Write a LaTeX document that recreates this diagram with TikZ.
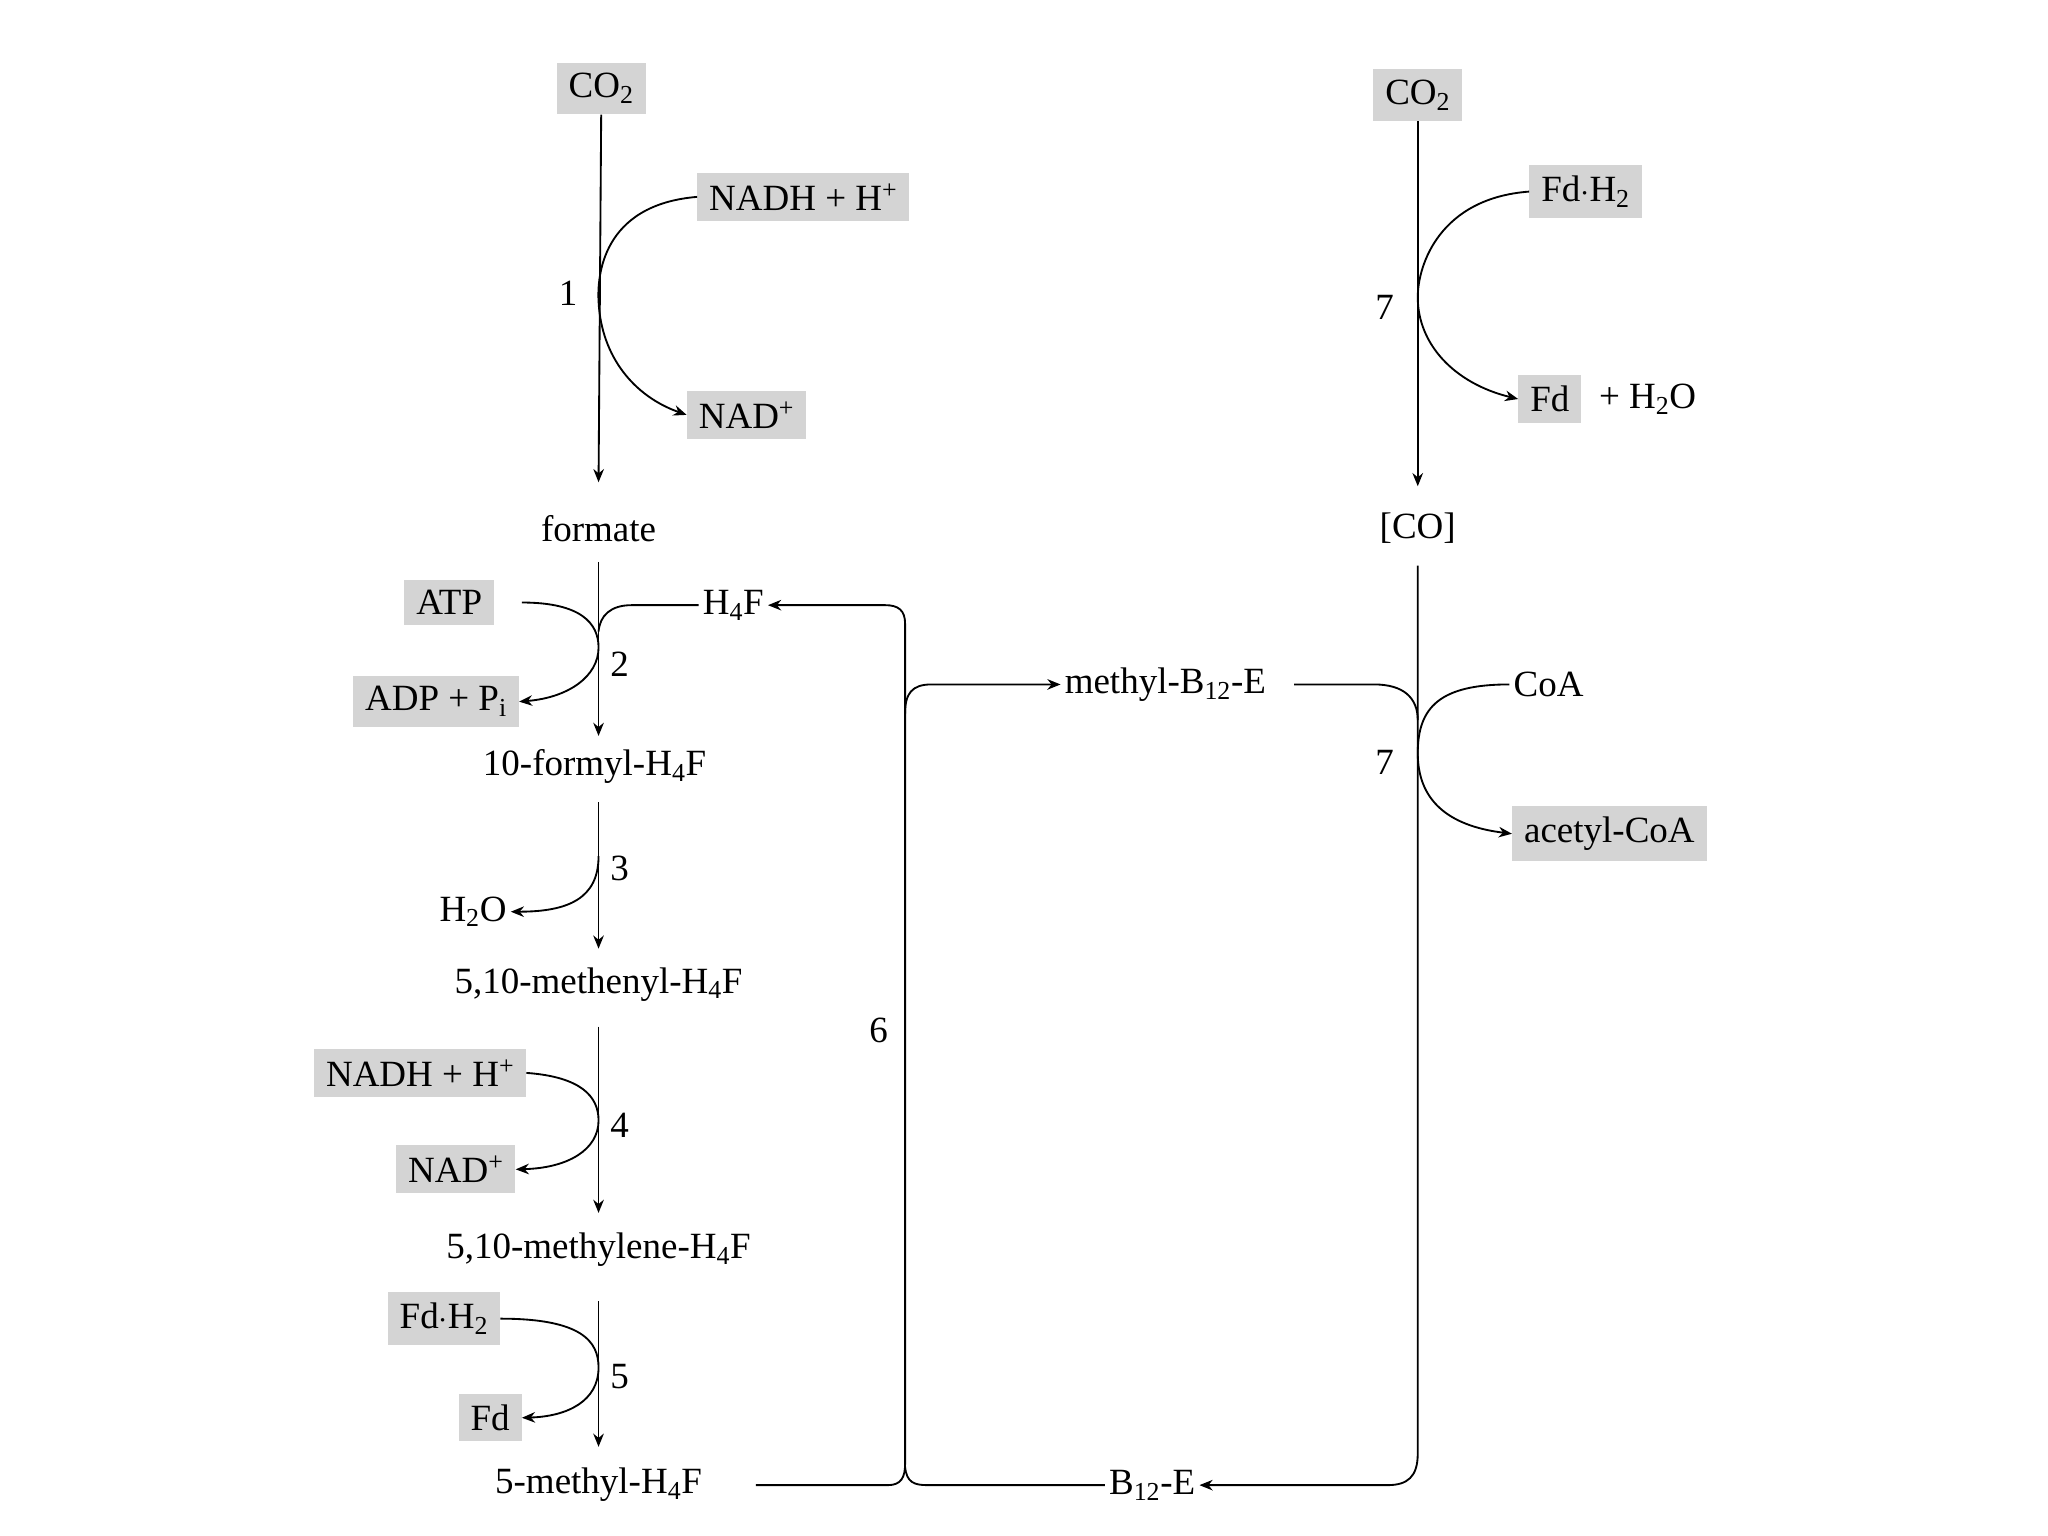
\documentclass[tikz,border=0pt]{standalone}
\usepackage{fontspec}
\setmainfont{Liberation Serif}
\usetikzlibrary{arrows.meta}
\newcommand{\sbs}[1]{\textsubscript{#1}}
\newcommand{\sps}[1]{\textsuperscript{#1}}
\begin{document}
\begin{tikzpicture}[x=1pt,y=-1pt,
  every node/.style={font=\fontsize{28}{32}\selectfont,inner sep=3pt},
  gbox/.style={fill=black!17,inner xsep=9pt,inner ysep=8pt},
  ln/.style={line width=1.4pt},
  ar/.style={ln,-{Stealth[length=10pt,width=8pt]}}]
\useasboundingbox (0,0) rectangle (1550,1162);
% left column
\node[gbox] (co2a) at (455,67) {CO\sbs{2}};
\node[gbox] (nadh1) at (608,149) {NADH + H\sps{+}};
\node[gbox] (nad1) at (565,314) {NAD\sps{+}};
\node (n1) at (430,222) {1};
\node (formate) at (453,400) {formate};
\draw[ar] (co2a.south) -- (453,365);
\draw[ar] (nadh1.west) .. controls (455,155) and (452,210) .. (453,228) .. controls (455,270) and (480,300) .. (nad1.west);
\node[gbox] (atp) at (340,456) {ATP};
\node (h4f) at (555,458) {H\sbs{4}F};
\node[gbox] (adp) at (330,531) {ADP + P\sbs{i}};
\node (n2) at (469,503) {2};
\node (formyl) at (450,580) {10-formyl-H\sbs{4}F};
\draw[ar] (formate.south) ++(0,12) -- (453,557);
\draw[ar] (395,456) .. controls (440,456) and (453,472) .. (453,490) .. controls (453,512) and (430,528) .. (adp.east);
\draw[ln] (h4f.west) -- (478,458) .. controls (462,458) and (454,466) .. (453,478);
\node (n3) at (469,657) {3};
\node (h2o) at (358,690) {H\sbs{2}O};
\node (methenyl) at (453,745) {5,10-methenyl-H\sbs{4}F};
\draw[ar] (453,607) -- (453,718);
\draw[ar] (453,648) .. controls (453,680) and (430,690) .. (h2o.east);
\node[gbox] (nadh2) at (318,812) {NADH + H\sps{+}};
\node[gbox] (nad2) at (345,885) {NAD\sps{+}};
\node (n4) at (469,852) {4};
\node (methylene) at (453,946) {5,10-methylene-H\sbs{4}F};
\draw[ar] (453,777) -- (453,918);
\draw[ar] (nadh2.east) .. controls (440,815) and (453,830) .. (453,848) .. controls (453,870) and (430,884) .. (nad2.east);
\node[gbox] (fdh2a) at (336,998) {Fd$\cdot$H\sbs{2}};
\node[gbox] (fda) at (371,1073) {Fd};
\node (n5) at (469,1042) {5};
\node (mthf) at (453,1124) {5-methyl-H\sbs{4}F};
\draw[ar] (453,985) -- (453,1095);
\draw[ar] (fdh2a.east) .. controls (440,998) and (453,1015) .. (453,1035) .. controls (453,1060) and (430,1072) .. (fda.east);
% middle loop
\node (n6) at (665,780) {6};
\node (mb12) at (882,518) {methyl-B\sbs{12}-E};
\node (b12) at (872,1124) {B\sbs{12}-E};
\draw[ar] (572,1124) -- (672,1124) .. controls (682,1124) and (685,1118) .. (685,1108) -- (685,472) .. controls (685,462) and (680,458) .. (670,458) -- (h4f.east);
\draw[ar] (685,540) .. controls (685,525) and (690,518) .. (705,518) -- (mb12.west);
\draw[ln] (685,1110) .. controls (686,1122) and (692,1124) .. (702,1124) -- (b12.west);
% right column
\node[gbox] (co2b) at (1073,72) {CO\sbs{2}};
\node[gbox] (fdh2b) at (1200,145) {Fd$\cdot$H\sbs{2}};
\node[gbox] (fdb) at (1173,302) {Fd};
\node[anchor=west] (h2ob) at (1207,302) {+ H\sbs{2}O};
\node (n7a) at (1048,233) {7};
\node (co) at (1073,400) {[CO]};
\draw[ar] (co2b.south) -- (1073,368);
\draw[ar] (fdh2b.west) .. controls (1090,150) and (1073,200) .. (1073,225) .. controls (1073,260) and (1100,290) .. (fdb.west);
\node (coa) at (1172,518) {CoA};
\node[gbox] (acoa) at (1218,631) {acetyl-CoA};
\node (n7b) at (1048,577) {7};
\draw[ar] (1073,428) -- (1073,1100) .. controls (1073,1118) and (1065,1124) .. (1050,1124) -- (b12.east);
\draw[ln] (mb12.east) ++(18,0) -- (1040,518) .. controls (1062,518) and (1073,528) .. (1073,545);
\draw[ar] (coa.west) .. controls (1090,518) and (1073,535) .. (1073,570) .. controls (1073,605) and (1095,625) .. (acoa.west);
\end{tikzpicture}
\end{document}
